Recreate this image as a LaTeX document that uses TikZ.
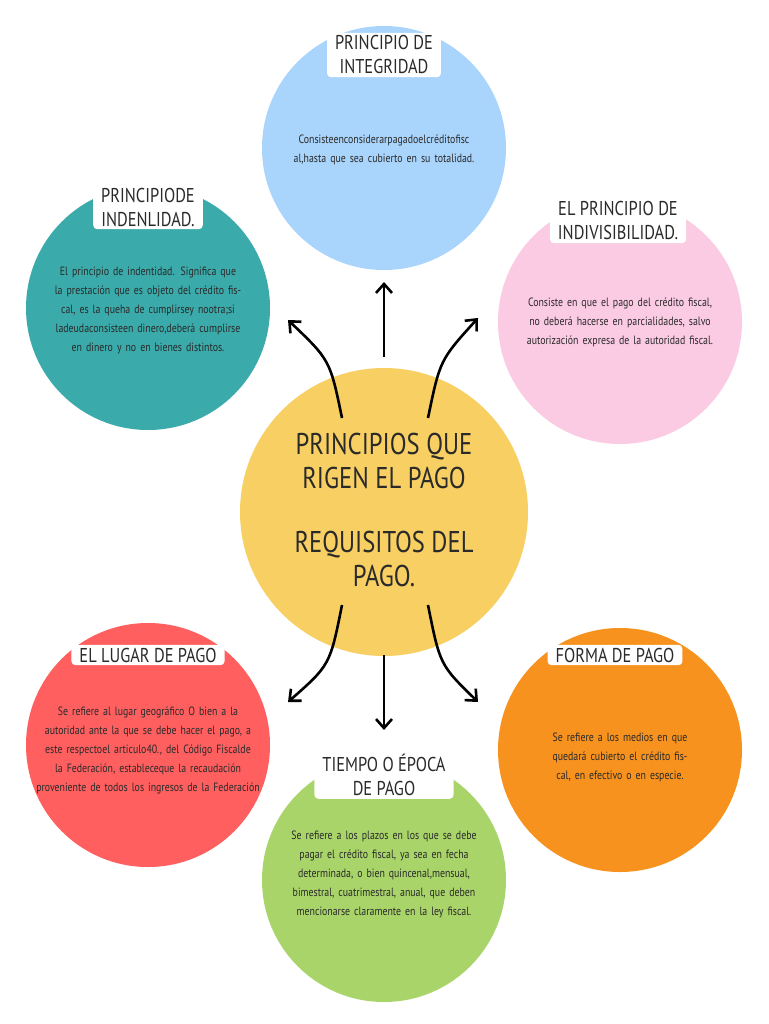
\documentclass[tikz,border=0pt]{standalone}
\usepackage{fontspec}
\setmainfont{PT Sans}[FakeStretch=0.82]
\usetikzlibrary{arrows.meta}
\definecolor{cblue}{HTML}{A9D4FB}
\definecolor{cteal}{HTML}{3BAAAA}
\definecolor{cpink}{HTML}{FBCBE3}
\definecolor{cyel}{HTML}{F8CF63}
\definecolor{cred}{HTML}{FF5F5F}
\definecolor{corg}{HTML}{F7921E}
\definecolor{cgrn}{HTML}{A9D46A}
\definecolor{ctxt}{HTML}{2A2A2A}
\begin{document}
\begin{tikzpicture}[x=1pt,y=-1pt,
 circ/.style={circle,draw=none,minimum size=244pt,inner sep=0pt},
 body/.style={align=center,text width=#1,font=\fontsize{12}{19}\selectfont,text=ctxt},
 ttl/.style={fill=white,rounded corners=4pt,align=center,inner xsep=8pt,inner ysep=3pt,font=\fontsize{20}{24}\selectfont,text=ctxt},
 arr/.style={line width=2.6pt,-{Straight Barb[length=9pt,width=16pt,line width=2.6pt]}}]
\useasboundingbox (0,0) rectangle (768,1024);
\fill[white] (0,0) rectangle (768,1024);
\node[circ,fill=cblue] (cb) at (384,148) {};
\node[circ,fill=cteal] (ct) at (148,308) {};
\node[circ,fill=cpink] (cp) at (620,322) {};
\node[circ,fill=cred] (cr) at (148,745) {};
\node[circ,fill=corg] (co) at (620,750) {};
\node[circ,fill=cgrn] (cg) at (384,880) {};
\node[circle,fill=cyel,minimum size=288pt,inner sep=0pt] (cy) at (384,512) {};
\node[align=center,font=\fontsize{30}{34}\selectfont,text=ctxt] (main) at (384,510) {PRINCIPIOS QUE\\RIGEN EL PAGO\\[30pt]REQUISITOS DEL\\PAGO.};
% titles
\node[ttl] (tb) at (384,55) {PRINCIPIO DE\\INTEGRIDAD};
\node[ttl] (tt) at (148,207) {PRINCIPIODE\\INDENLIDAD.};
\node[ttl] (tp) at (618,221) {EL PRINCIPIO DE\\INDIVISIBILIDAD.};
\node[ttl] (tr) at (148,655) {EL LUGAR DE PAGO};
\node[ttl] (to) at (615,655) {FORMA DE PAGO};
\node[ttl] (tg) at (384,775) {TIEMPO O ÉPOCA\\DE PAGO};
% bodies
\node[body=235pt] (bb) at (384,150) {Consisteenconsiderarpagadoelcréditofisc al,hasta que sea cubierto en su totalidad.};
\node[body=215pt] (bt) at (148,310) {El principio de indentidad. Significa que la prestación que es objeto del crédito fiscal, es la queha de cumplirsey nootra;si ladeudaconsisteen dinero,deberá cumplirse en dinero y no en bienes distintos.};
\node[body=210pt] (bp) at (620,322) {Consiste en que el pago del crédito fiscal, no deberá hacerse en parcialidades, salvo autorización expresa de la autoridad fiscal.};
\node[body=225pt] (br) at (148,750) {Se refiere al lugar geográfico O bien a la autoridad ante la que se debe hacer el pago, a este respectoel articulo40., del Código Fiscalde la Federación, estableceque la recaudación proveniente de todos los ingresos de la Federación};
\node[body=205pt] (bo) at (620,757) {Se refiere a los medios en que quedará cubierto el crédito fiscal, en efectivo o en especie.};
\node[body=205pt] (bg) at (384,874) {Se refiere a los plazos en los que se debe pagar el crédito fiscal, ya sea en fecha determinada, o bien quincenal,mensual, bimestral, cuatrimestral, anual, que deben mencionarse claramente en la ley fiscal.};
% arrows
\coordinate (a1) at (342,418); \coordinate (e1) at (288,320);
\coordinate (a2) at (384,357); \coordinate (e2) at (384,282);
\coordinate (a3) at (428,418); \coordinate (e3) at (478,318);
\coordinate (a4) at (342,605); \coordinate (e4) at (288,702);
\coordinate (a5) at (384,655); \coordinate (e5) at (384,730);
\coordinate (a6) at (428,605); \coordinate (e6) at (478,702);
\draw[arr] (a1) .. controls (330,360) .. (e1);
\draw[arr] (a2) -- (e2);
\draw[arr] (a3) .. controls (440,360) .. (e3);
\draw[arr] (a4) .. controls (330,665) .. (e4);
\draw[arr] (a5) -- (e5);
\draw[arr] (a6) .. controls (440,665) .. (e6);
\end{tikzpicture}
\end{document}
